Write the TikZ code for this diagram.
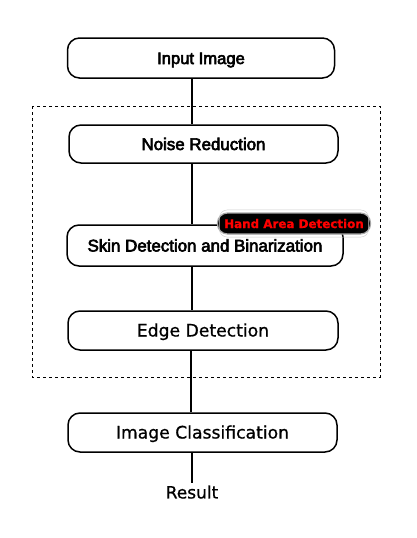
\documentclass[tikz,border=0pt]{standalone}
\usepackage{fontspec}
\setmainfont{Liberation Sans}
\newfontfamily\arialb[FakeBold=3.5]{Liberation Sans}
\newfontfamily\dejavu[FakeBold=0.8]{DejaVu Sans}
\newfontfamily\dejavub[FakeBold=1]{DejaVu Sans Bold}
\begin{document}
\begin{tikzpicture}[x=1pt,y=-1pt,
  stepbox/.style={draw=black, line width=1.5pt, rounded corners=12pt, fill=white, inner sep=0pt, text depth=0pt, text height=12pt},
  conn/.style={draw=black, line width=1.5pt},
  ]
\useasboundingbox (0,0) rectangle (417,538);
\fill[white] (0,0) rectangle (417,538);
\coordinate (spine) at (192,0);
\draw[line width=0.8pt, dash pattern=on 3pt off 3pt] (32,106) rectangle (380,377);
\node[stepbox, minimum width=267pt, minimum height=40pt, font=\arialb\fontsize{16.6}{18}\selectfont] (in) at (201,58) {Input Image};
\node[stepbox, minimum width=269pt, minimum height=38pt, font=\arialb\fontsize{16.9}{18}\selectfont] (nr) at (203.5,144) {Noise Reduction};
\node[stepbox, minimum width=276pt, minimum height=41pt, font=\arialb\fontsize{16.9}{18}\selectfont] (skin) at (205,245.5) {Skin Detection and Binarization};
\node[stepbox, minimum width=270pt, minimum height=39pt, font=\dejavu\fontsize{17.2}{19}\selectfont] (edge) at (203,330.5) {Edge Detection};
\node[stepbox, minimum width=269pt, minimum height=39pt, font=\dejavu\fontsize{17.2}{19}\selectfont] (cls) at (202.5,432.5) {Image Classification};
\node[inner sep=0pt, text depth=0pt, font=\dejavu\fontsize{17}{19}\selectfont] (res) at (192,492) {Result};
\coordinate (resTop) at (192,483);
\draw[conn] (in.south -| spine) -- (nr.north -| spine);
\draw[conn] (nr.south -| spine) -- (skin.north -| spine);
\draw[conn] (skin.south -| spine) -- (edge.north -| spine);
\draw[conn] (191,0 |- edge.south) -- (191,0 |- cls.north);
\draw[conn] (cls.south -| spine) -- (resTop);
\node[draw=gray!70, line width=1.2pt, fill=black, rounded corners=10pt, minimum width=153pt, minimum height=21pt, inner sep=0pt, text depth=0pt, text=red, font=\dejavub\fontsize{11.9}{13}\selectfont] (pill) at (294,223.5) {Hand Area Detection};
\draw[white!60!gray, line width=0.4pt, rounded corners=8pt] ([xshift=2.5pt,yshift=-2.5pt]pill.south west) rectangle ([xshift=-2.5pt,yshift=2.5pt]pill.north east);
\end{tikzpicture}
\end{document}
